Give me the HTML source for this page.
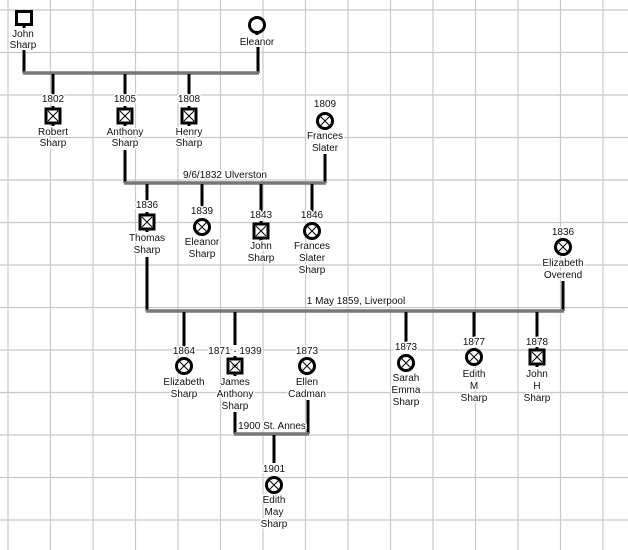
<!DOCTYPE html>
<html><head><meta charset="utf-8"><style>
html,body{margin:0;padding:0;background:#fff;}
svg{display:block;}
text{font-family:"Liberation Sans",sans-serif;font-size:10px;fill:#111;text-anchor:middle;paint-order:stroke;stroke:#fff;stroke-width:3px;stroke-linejoin:round;}
.g line{stroke:#c8c8c8;stroke-width:1.2;}
.d{stroke:#000;stroke-width:3;}
.m{stroke:#777;stroke-width:3.5;}
</style></head><body>
<svg width="628" height="550" viewBox="0 0 628 550" xmlns="http://www.w3.org/2000/svg">
<defs>
<g id="mx"><rect x="-7" y="-7" width="14" height="14" fill="#fff" stroke="#000" stroke-width="3"/><path d="M-5,-5L5,5M5,-5L-5,5" stroke="#000" stroke-width="1"/><rect x="-1.5" y="-10" width="3" height="3" fill="#000"/><rect x="-1.5" y="7" width="3" height="3" fill="#000"/></g>
<g id="fx"><circle r="7.5" fill="#fff" stroke="#000" stroke-width="3"/><path d="M-5,-5L5,5M5,-5L-5,5" stroke="#000" stroke-width="1"/></g>
</defs>
<g class="g">
<line x1="8" y1="0" x2="8" y2="550"/><line x1="50.5" y1="0" x2="50.5" y2="550"/><line x1="93" y1="0" x2="93" y2="550"/><line x1="135.5" y1="0" x2="135.5" y2="550"/><line x1="178" y1="0" x2="178" y2="550"/><line x1="220.5" y1="0" x2="220.5" y2="550"/><line x1="263" y1="0" x2="263" y2="550"/><line x1="305.5" y1="0" x2="305.5" y2="550"/><line x1="348" y1="0" x2="348" y2="550"/><line x1="390.5" y1="0" x2="390.5" y2="550"/><line x1="433" y1="0" x2="433" y2="550"/><line x1="475.5" y1="0" x2="475.5" y2="550"/><line x1="518" y1="0" x2="518" y2="550"/><line x1="560.5" y1="0" x2="560.5" y2="550"/><line x1="603" y1="0" x2="603" y2="550"/>
<line x1="0" y1="10" x2="628" y2="10"/><line x1="0" y1="52.5" x2="628" y2="52.5"/><line x1="0" y1="95" x2="628" y2="95"/><line x1="0" y1="137.5" x2="628" y2="137.5"/><line x1="0" y1="180" x2="628" y2="180"/><line x1="0" y1="222.5" x2="628" y2="222.5"/><line x1="0" y1="265" x2="628" y2="265"/><line x1="0" y1="307.5" x2="628" y2="307.5"/><line x1="0" y1="350" x2="628" y2="350"/><line x1="0" y1="392.5" x2="628" y2="392.5"/><line x1="0" y1="435" x2="628" y2="435"/><line x1="0" y1="477.5" x2="628" y2="477.5"/><line x1="0" y1="520" x2="628" y2="520"/>
</g>
<line class="d" x1="24" y1="50" x2="24" y2="73"/><line class="d" x1="258" y1="47" x2="258" y2="73"/>
<line class="m" x1="23" y1="73" x2="259" y2="73"/>
<line class="d" x1="53" y1="74" x2="53" y2="95"/><line class="d" x1="125" y1="74" x2="125" y2="95"/><line class="d" x1="189" y1="74" x2="189" y2="95"/>
<rect x="16.5" y="11.5" width="15" height="13" fill="#fff" stroke="#000" stroke-width="3"/><rect x="22.5" y="25" width="3" height="3"/>
<text x="23" y="37">John</text><text x="23" y="48">Sharp</text>
<circle cx="257" cy="25" r="7.5" fill="#fff" stroke="#000" stroke-width="3"/><rect x="255.5" y="32" width="3" height="3"/>
<text x="257" y="45">Eleanor</text>
<text x="53" y="102">1802</text><use href="#mx" x="53" y="116"/><text x="53" y="135">Robert</text><text x="53" y="146">Sharp</text>
<text x="125" y="102">1805</text><use href="#mx" x="125" y="116"/><text x="125" y="135">Anthony</text><text x="125" y="146">Sharp</text>
<text x="189" y="102">1808</text><use href="#mx" x="189" y="116"/><text x="189" y="135">Henry</text><text x="189" y="146">Sharp</text>
<text x="325" y="107">1809</text><use href="#fx" x="325" y="121"/><text x="325" y="139">Frances</text><text x="325" y="151">Slater</text>
<line class="d" x1="125" y1="150" x2="125" y2="183"/><line class="d" x1="325" y1="154" x2="325" y2="183"/>
<line class="m" x1="124" y1="183" x2="326" y2="183"/>
<text x="225" y="178">9/6/1832 Ulverston</text>
<line class="d" x1="147" y1="184" x2="147" y2="205"/><line class="d" x1="202" y1="184" x2="202" y2="210"/><line class="d" x1="261" y1="184" x2="261" y2="214"/><line class="d" x1="312" y1="184" x2="312" y2="214"/>
<text x="147" y="208">1836</text><use href="#mx" x="147" y="222"/><text x="147" y="241">Thomas</text><text x="147" y="253">Sharp</text>
<text x="202" y="214">1839</text><use href="#fx" x="202" y="227"/><text x="202" y="245">Eleanor</text><text x="202" y="257">Sharp</text>
<text x="261" y="218">1843</text><use href="#mx" x="261" y="231"/><text x="261" y="249">John</text><text x="261" y="261">Sharp</text>
<text x="312" y="218">1846</text><use href="#fx" x="312" y="231"/><text x="312" y="249">Frances</text><text x="312" y="261">Slater</text><text x="312" y="273">Sharp</text>
<text x="563" y="235">1836</text><use href="#fx" x="563" y="247"/><text x="563" y="266">Elizabeth</text><text x="563" y="278">Overend</text>
<line class="d" x1="147" y1="257" x2="147" y2="311"/><line class="d" x1="563" y1="281" x2="563" y2="311"/>
<line class="m" x1="146" y1="311" x2="564" y2="311"/>
<text x="356" y="304">1 May 1859, Liverpool</text>
<line class="d" x1="184" y1="312" x2="184" y2="348"/><line class="d" x1="235" y1="312" x2="235" y2="345"/><line class="d" x1="406" y1="312" x2="406" y2="348"/><line class="d" x1="474" y1="312" x2="474" y2="343"/><line class="d" x1="537" y1="312" x2="537" y2="343"/>
<text x="184" y="354">1864</text><use href="#fx" x="184" y="366"/><text x="184" y="385">Elizabeth</text><text x="184" y="397">Sharp</text>
<text x="235" y="354">1871 - 1939</text><use href="#mx" x="235" y="366"/><text x="235" y="368" style="font-size:5px;stroke:none">68</text><text x="235" y="385">James</text><text x="235" y="397">Anthony</text><text x="235" y="409">Sharp</text>
<text x="307" y="354">1873</text><use href="#fx" x="307" y="366"/><text x="307" y="385">Ellen</text><text x="307" y="397">Cadman</text>
<text x="406" y="350">1873</text><use href="#fx" x="406" y="363"/><text x="406" y="381">Sarah</text><text x="406" y="393">Emma</text><text x="406" y="405">Sharp</text>
<text x="474" y="345">1877</text><use href="#fx" x="474" y="357"/><text x="474" y="377">Edith</text><text x="474" y="389">M</text><text x="474" y="401">Sharp</text>
<text x="537" y="345">1878</text><use href="#mx" x="537" y="357"/><text x="537" y="377">John</text><text x="537" y="389">H</text><text x="537" y="401">Sharp</text>
<line class="d" x1="235" y1="412" x2="235" y2="434"/><line class="d" x1="308" y1="400" x2="308" y2="434"/>
<line class="m" x1="234" y1="434" x2="309" y2="434"/>
<text x="272" y="429">1900 St. Annes</text>
<line class="d" x1="274" y1="435" x2="274" y2="463"/>
<text x="274" y="472">1901</text><use href="#fx" x="274" y="485"/><text x="274" y="503">Edith</text><text x="274" y="515">May</text><text x="274" y="527">Sharp</text>
</svg>
</body></html>
